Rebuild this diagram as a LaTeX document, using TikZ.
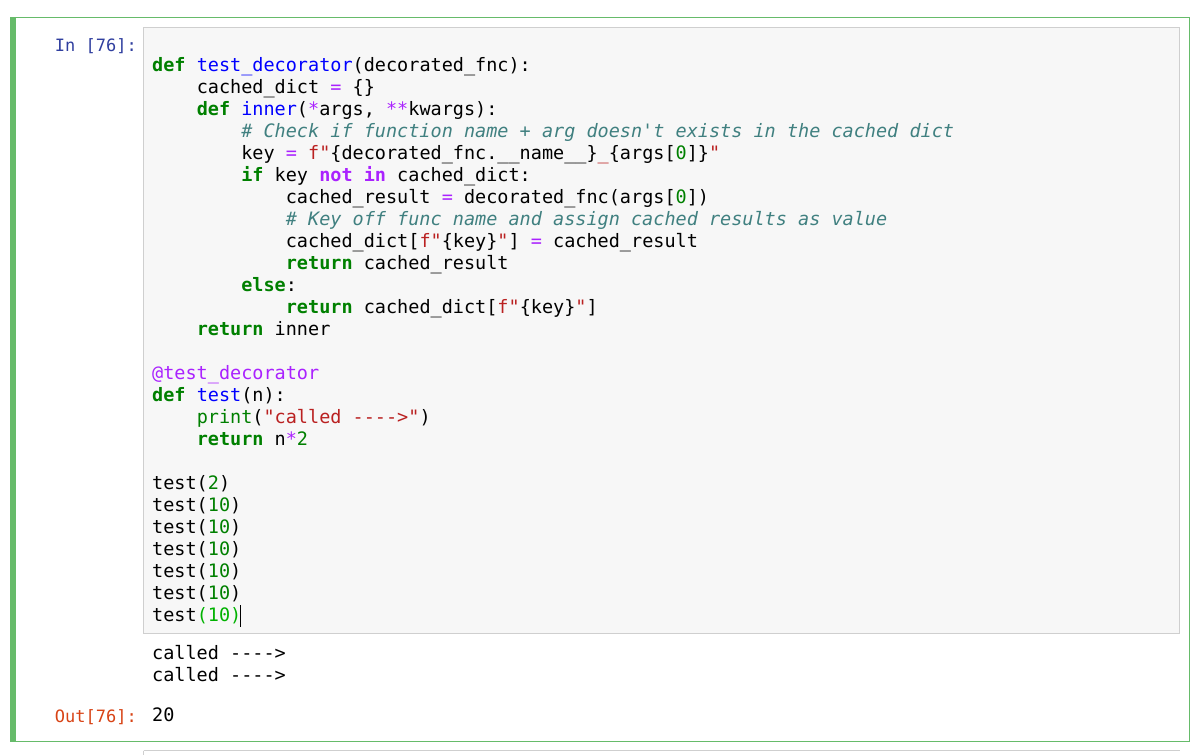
\documentclass[tikz,border=0pt]{standalone}
\usepackage{fontspec}
\setmonofont{DejaVu Sans Mono}
\definecolor{kw}{HTML}{008000}
\definecolor{fn}{HTML}{0000FF}
\definecolor{op}{HTML}{AA22FF}
\definecolor{cm}{HTML}{408080}
\definecolor{st}{HTML}{BA2121}
\definecolor{nm}{HTML}{008000}
\definecolor{inc}{HTML}{303F9F}
\definecolor{outc}{HTML}{D84315}
\definecolor{cellg}{HTML}{66BB6A}
\newcommand\K[1]{\textcolor{kw}{\bfseries #1}}
\newcommand\Fn[1]{\textcolor{fn}{#1}}
\newcommand\Op[1]{\textcolor{op}{#1}}
\newcommand\Cm[1]{\textcolor{cm}{\itshape #1}}
\newcommand\St[1]{\textcolor{st}{#1}}
\newcommand\Nm[1]{\textcolor{nm}{#1}}
\newcommand\Bn[1]{\textcolor{green!70!black}{#1}}
\begin{document}
\begin{tikzpicture}[x=1pt,y=-1pt,
  code/.style={anchor=base west,inner sep=0pt,font=\ttfamily\fontsize{18.5}{22}\selectfont},
  prompt/.style={anchor=base east,inner sep=0pt,font=\ttfamily\fontsize{17}{22}\selectfont}]
\useasboundingbox (0,0) rectangle (1200,755);
\fill[white] (0,0) rectangle (1200,755);
\draw[cellg,line width=1pt] (10.5,17.5) rectangle (1189.5,741.5);
\fill[cellg] (10,17) rectangle (16,742);
\draw[fill=black!3,draw=black!19] (143.5,27.5) rectangle (1179.5,633.5);
\draw[fill=black!3,draw=black!19] (143.5,750.5) -- (143.5,760) (143.5,750.5) -- (1179.5,750.5);
\node[prompt,text=inc] (in) at (137,51) {In [76]:};
\node[prompt,text=outc] (out) at (137,722) {Out[76]:};
\def\L#1#2{\node[code] at (152,#1+5) {#2};}
\L{66}{\K{def} \Fn{test\_decorator}(decorated\_fnc):}
\L{88}{\ \ \ \ cached\_dict \Op{=} \{\}}
\L{110}{\ \ \ \ \K{def} \Fn{inner}(\Op{*}args, \Op{**}kwargs):}
\L{132}{\ \ \ \ \ \ \ \ \Cm{\# Check if function name + arg doesn't exists in the cached dict}}
\L{154}{\ \ \ \ \ \ \ \ key \Op{=} \St{f"}\{decorated\_fnc.\_\_name\_\_\}\St{\_}\{args[\Nm{0}]\}\St{"}}
\L{176}{\ \ \ \ \ \ \ \ \K{if} key \Op{\bfseries not} \Op{\bfseries in} cached\_dict:}
\L{198}{\ \ \ \ \ \ \ \ \ \ \ \ cached\_result \Op{=} decorated\_fnc(args[\Nm{0}])}
\L{220}{\ \ \ \ \ \ \ \ \ \ \ \ \Cm{\# Key off func name and assign cached results as value}}
\L{242}{\ \ \ \ \ \ \ \ \ \ \ \ cached\_dict[\St{f"}\{key\}\St{"}] \Op{=} cached\_result}
\L{264}{\ \ \ \ \ \ \ \ \ \ \ \ \K{return} cached\_result}
\L{286}{\ \ \ \ \ \ \ \ \K{else}:}
\L{308}{\ \ \ \ \ \ \ \ \ \ \ \ \K{return} cached\_dict[\St{f"}\{key\}\St{"}]}
\L{330}{\ \ \ \ \K{return} inner}
\L{374}{\Op{@test\_decorator}}
\L{396}{\K{def} \Fn{test}(n):}
\L{418}{\ \ \ \ \textcolor{kw}{print}(\St{"called ---->"})}
\L{440}{\ \ \ \ \K{return} n\Op{*}\Nm{2}}
\L{484}{test(\Nm{2})}
\L{506}{test(\Nm{10})}
\L{528}{test(\Nm{10})}
\L{550}{test(\Nm{10})}
\L{572}{test(\Nm{10})}
\L{594}{test(\Nm{10})}
\L{616}{test\Bn{(}\Bn{10}\Bn{)}}
\draw (240,605) -- (240,627);
\L{654}{called ---->}
\L{676}{called ---->}
\L{716}{20}
\end{tikzpicture}
\end{document}
